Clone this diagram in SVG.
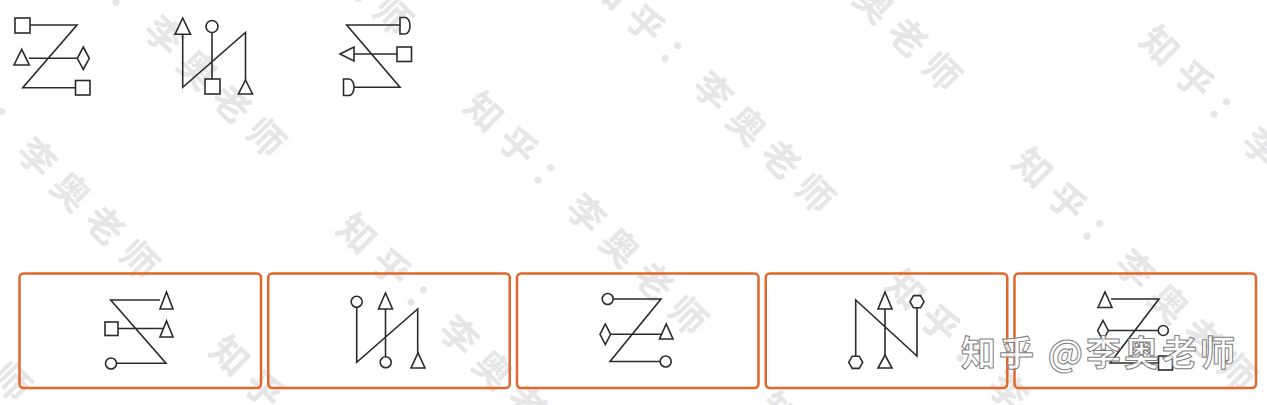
<svg xmlns="http://www.w3.org/2000/svg" xmlns:xlink="http://www.w3.org/1999/xlink" width="1267" height="405" viewBox="0 0 1267 405">
<style>
.ln{fill:none;stroke:#2b2b2b;stroke-width:1.6;stroke-linejoin:miter}
.sh{fill:#fff;stroke:#2b2b2b;stroke-width:1.6;stroke-linejoin:miter}
.box{fill:none;stroke:#e2672b;stroke-width:2.5}
.wm{font-family:"Noto Sans CJK SC","Noto Sans CJK TC",sans-serif;font-size:37px;font-weight:bold;fill:#e6e6e6;letter-spacing:11px}
.brand{font-family:"Noto Sans CJK SC","Noto Sans CJK TC",sans-serif;font-size:35px;font-weight:bold;fill:#ffffff;fill-opacity:0.8;stroke:#808080;stroke-width:1}
</style>
<defs>
<text id="wmt" class="wm" x="-18" y="14">知乎：李奥老师</text>
</defs>
<rect width="1267" height="405" fill="#ffffff"/>
<g id="watermarks">
<use xlink:href="#wmt" transform="translate(-192 177) rotate(45)"/>
<use xlink:href="#wmt" transform="translate(-65 55) rotate(45)"/>
<use xlink:href="#wmt" transform="translate(62 -67) rotate(45)"/>
<use xlink:href="#wmt" transform="translate(189 -189) rotate(45)"/>
<use xlink:href="#wmt" transform="translate(230 355) rotate(45)"/>
<use xlink:href="#wmt" transform="translate(357 233) rotate(45)"/>
<use xlink:href="#wmt" transform="translate(484 111) rotate(45)"/>
<use xlink:href="#wmt" transform="translate(611 -11) rotate(45)"/>
<use xlink:href="#wmt" transform="translate(738 -133) rotate(45)"/>
<use xlink:href="#wmt" transform="translate(779 411) rotate(45)"/>
<use xlink:href="#wmt" transform="translate(906 289) rotate(45)"/>
<use xlink:href="#wmt" transform="translate(1033 167) rotate(45)"/>
<use xlink:href="#wmt" transform="translate(1160 45) rotate(45)"/>
</g>
<g id="boxes">
<rect class="box" x="19.5" y="273.5" width="241.5" height="114.5" rx="4"/>
<rect class="box" x="268.25" y="273.5" width="241.5" height="114.5" rx="4"/>
<rect class="box" x="517" y="273.5" width="241.5" height="114.5" rx="4"/>
<rect class="box" x="765.75" y="273.5" width="241.5" height="114.5" rx="4"/>
<rect class="box" x="1014.5" y="273.5" width="241.5" height="114.5" rx="4"/>
</g>
<g id="connectors">
<path class="ln" d="M30,25 H77 L22.7,87.7 H76 M29,58.3 H78"/>
<path class="ln" d="M182.7,34 V87.3 L245.5,32.5 V80 M212,32 V79"/>
<path class="ln" d="M354,87.3 H400 L346.7,25 H400 M354,54 H397"/>
<path class="ln" d="M160,300 H110.7 L166,363.3 H116 M118,328.5 H165"/>
<path class="ln" d="M356.7,307 V362.3 L417.7,309 V354 M385.5,309 V357"/>
<path class="ln" d="M613,299 H661 L610,361.5 H660 M610.5,334.3 H665"/>
<path class="ln" d="M855.7,356 V300 L917,356 V308 M885,309 V355"/>
<path class="ln" d="M1111,299 H1159 L1110,363 H1159 M1108,330.5 H1158"/>
</g>
<g id="fig-q1">
<rect class="sh" x="15" y="18" width="15" height="15"/>
<polygon class="sh" points="14,65 29.3,65 21.7,49.3"/>
<polygon class="sh" points="83.3,47 89.3,58.3 83.3,69.5 77.3,58.3"/>
<rect class="sh" x="75.5" y="80.5" width="14.5" height="14.5"/>
</g>
<g id="fig-q2">
<polygon class="sh" points="175,34.3 190.5,34.3 182.7,18"/>
<circle class="sh" cx="212" cy="26.5" r="6"/>
<rect class="sh" x="205" y="79" width="15" height="15"/>
<polygon class="sh" points="238.5,94 252.5,94 245.5,80"/>
</g>
<g id="fig-q3">
<path class="sh" d="M400,17.5 H405 A5,8.25 0 0 1 405,34 H400 Z"/>
<rect class="sh" x="397" y="47" width="14.5" height="14.5"/>
<polygon class="sh" points="340,54 354,47 354,61"/>
<path class="sh" d="M343.5,79 H349 A5,8.25 0 0 1 349,95.5 H343.5 Z"/>
</g>
<g id="opt-1">
<polygon class="sh" points="160,309 173,309 166.5,292"/>
<polygon class="sh" points="160,337 173,337 166.5,321"/>
<rect class="sh" x="105" y="322" width="13" height="13.5"/>
<circle class="sh" cx="111" cy="363.5" r="5.5"/>
</g>
<g id="opt-2">
<circle class="sh" cx="356.7" cy="301.7" r="5.5"/>
<circle class="sh" cx="385.7" cy="362.3" r="5.5"/>
<polygon class="sh" points="378.5,309 392.5,309 385.5,293"/>
<polygon class="sh" points="411,368 425,368 418,353"/>
</g>
<g id="opt-3">
<circle class="sh" cx="607.7" cy="299" r="5.5"/>
<circle class="sh" cx="665.7" cy="361.5" r="5.5"/>
<polygon class="sh" points="605.3,324 610.6,334.3 605.3,344.5 600,334.3"/>
<polygon class="sh" points="659.5,339 673,339 666.2,324"/>
</g>
<g id="opt-4">
<polygon class="sh" points="848.7,362.3 852.2,356.2 859.2,356.2 862.7,362.3 859.2,368.4 852.2,368.4"/>
<polygon class="sh" points="910,301.7 913.5,295.6 920.5,295.6 924,301.7 920.5,307.8 913.5,307.8"/>
<polygon class="sh" points="878,309 892,309 885,292"/>
<polygon class="sh" points="878,368 892,368 885,355"/>
</g>
<g id="opt-5">
<polygon class="sh" points="1098,307.5 1112,307.5 1105,292"/>
<polygon class="sh" points="1103,320.5 1108.3,330.5 1103,340.5 1097.7,330.5"/>
<circle class="sh" cx="1163.3" cy="330.5" r="5"/>
<rect class="sh" x="1158.5" y="356" width="14" height="14"/>
</g>
<g id="brand">
<text class="brand" x="961" y="366" textLength="274" lengthAdjust="spacing">知乎 @李奥老师</text>
</g>
</svg>
